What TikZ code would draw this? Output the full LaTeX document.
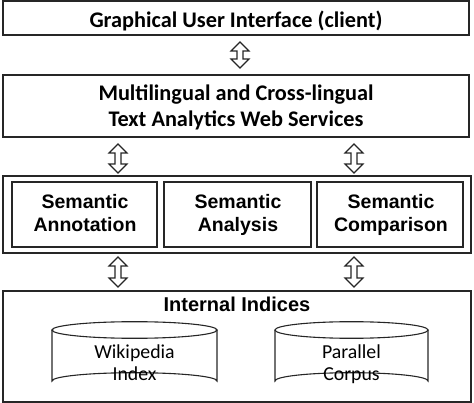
\documentclass[tikz,border=0pt]{standalone}
\usepackage{fontspec}
\setmainfont{Liberation Sans}
\newfontfamily\calib{Carlito}
\begin{document}
\begin{tikzpicture}[x=1pt,y=-1pt,
  box/.style={draw=black!85,line width=1.5pt},
  inbox/.style={draw=black!85,line width=1.2pt},
  arr/.style={draw=black!85,line width=1.1pt,fill=white,line join=miter},
  cyl/.style={draw=black!85,line width=1.1pt},
  ttl/.style={font=\calib\bfseries\fontsize{22.3}{26}\selectfont,anchor=base,inner sep=0pt},
  sem/.style={font=\bfseries\fontsize{19.5}{23}\selectfont,anchor=base,inner sep=0pt},
  ctext/.style={font=\calib\fontsize{19.8}{23}\selectfont,anchor=base,inner sep=0pt}]
\useasboundingbox (0,0) rectangle (474,403);
% boxes
\draw[box] (3,1) rectangle (469,35);
\node[ttl] (gui) at (236,27.7) {Graphical User Interface (client)};
\draw[box] (3,75) rectangle (469,137);
\node[ttl] (ws1) at (236,101) {Multilingual and Cross-lingual};
\node[ttl] (ws2) at (236,126.5) {Text Analytics Web Services};
\draw[box] (3,176) rectangle (471,253);
\draw[inbox] (12,182) rectangle (157,247);
\draw[inbox] (164,182) rectangle (311,247);
\draw[inbox] (317,182) rectangle (463,247);
\node[sem] (sa1) at (85,208.5) {Semantic};
\node[sem] (sa2) at (85,231.5) {Annotation};
\node[sem] (sn1) at (238,208.5) {Semantic};
\node[sem] (sn2) at (238,231.5) {Analysis};
\node[sem] (sc1) at (391,208.5) {Semantic};
\node[sem] (sc2) at (391,231.5) {Comparison};
\draw[box] (3,291) rectangle (471,402);
\node[sem,font=\bfseries\fontsize{20}{24}\selectfont] (ii) at (237,311.7) {Internal Indices};
% cylinders
\foreach \cx/\rx in {134.5/82.5,351.5/76.5}{
  \draw[cyl] (\cx,330) ellipse[x radius=\rx,y radius=8.3];
  \draw[cyl] (\cx-\rx,330) -- (\cx-\rx,381) arc[start angle=180,end angle=360,x radius=\rx,y radius=8.3] -- (\cx+\rx,330);
}
\node[ctext] (wi1) at (134.5,358.3) {Wikipedia};
\node[ctext] (wi2) at (134.5,381) {Index};
\node[ctext] (pc1) at (351.5,358.3) {Parallel};
\node[ctext] (pc2) at (351.5,381) {Corpus};
% double arrows
\foreach \cx/\ya/\yb in {240/42/68,118/144/173,354/144/173,118/257/287,354/257/287}{
  \draw[arr] (\cx,\ya) -- (\cx+9,\ya+9) -- (\cx+3,\ya+9) -- (\cx+3,\yb-9) -- (\cx+9,\yb-9)
    -- (\cx,\yb) -- (\cx-9,\yb-9) -- (\cx-3,\yb-9) -- (\cx-3,\ya+9) -- (\cx-9,\ya+9) -- cycle;
}
\end{tikzpicture}
\end{document}
